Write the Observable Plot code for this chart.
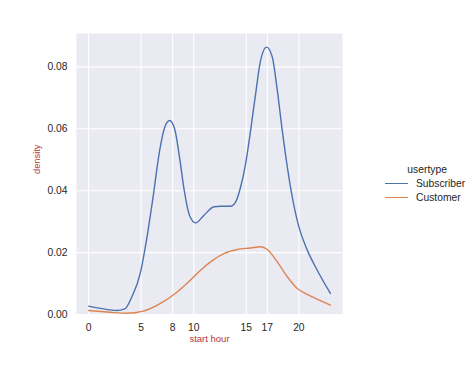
<!DOCTYPE html>
<html>
<head>
<meta charset="utf-8">
<script src="https://cdn.jsdelivr.net/npm/d3@7"></script>
<script src="https://cdn.jsdelivr.net/npm/@observablehq/plot@0.6"></script>
<style>
  body { margin: 0; background: #fff; }
  #wrap { position: relative; width: 474px; height: 379px; font-family: "Liberation Sans", Arial, sans-serif; }
  #legend { position: absolute; left: 385px; top: 164px; font-size: 10.3px; color: #262626; }
  #legend .title { text-align: center; margin-left: 4px; margin-bottom: 2px; font-size: 10.3px; }
  #legend .row { display: flex; align-items: center; height: 13.5px; }
  #legend .sw { width: 23px; height: 0; border-top: 1.5px solid; margin-right: 8px; }
</style>
</head>
<body>
<div id="wrap"></div>
<script>
const subHours = [0,1.42,2.68,3.45,4.1,4.9,5.5,6.13,6.76,7.24,7.71,8.18,8.65,9.1,9.6,10.19,10.98,11.93,12.56,13.5,13.99,14.46,14.94,15.41,15.89,16.36,16.93,17.47,17.95,18.42,18.9,19.37,20,20.8,21.75,23];
const subDensity = [0.0027,0.0018,0.0013,0.0018,0.0056,0.0131,0.0239,0.0379,0.053,0.0605,0.0627,0.060,0.0508,0.040,0.032,0.0296,0.0321,0.0348,0.035,0.035,0.0364,0.0412,0.0488,0.0595,0.0714,0.0821,0.0864,0.0832,0.0724,0.0595,0.0477,0.038,0.0283,0.0208,0.0143,0.0068];
const custHours = [0,2.05,3.6,5.2,6.8,8.4,9.6,10.65,11.6,12.87,14.14,15.4,16.36,17.0,17.95,18.9,19.85,20.8,22.0,23];
const custDensity = [0.0013,0.00075,0.0004,0.0011,0.0035,0.0072,0.0108,0.0143,0.017,0.0197,0.021,0.0215,0.0219,0.021,0.017,0.0122,0.0084,0.0065,0.0046,0.003];
const xTicks = [0,5,8,10,15,17,20];
const yTicks = [0,0.02,0.04,0.06,0.08];
const seriesNames = ["Subscriber","Customer"];
const seriesColors = ["#4c72b0","#dd8452"];

const rows = [
  ...subHours.map((h,i) => ({usertype: seriesNames[0], hour: h, density: subDensity[i]})),
  ...custHours.map((h,i) => ({usertype: seriesNames[1], hour: h, density: custDensity[i]}))
];

const labelColor = "#b5363b";
const chart = Plot.plot({
  width: 474,
  height: 379,
  marginLeft: 76,
  marginRight: 132,
  marginTop: 33,
  marginBottom: 65,
  style: {fontFamily: "'Liberation Sans', Arial, sans-serif", fontSize: "10.3px", color: "#262626", background: "#fff"},
  x: {domain: [-1.15, 24.15], ticks: xTicks},
  y: {domain: [0, 0.0908], ticks: yTicks},
  color: {domain: seriesNames, range: seriesColors},
  marks: [
    Plot.frame({fill: "#eaeaf2", stroke: null}),
    Plot.gridX(xTicks, {stroke: "#fff", strokeOpacity: 1, strokeWidth: 1.1}),
    Plot.gridY(yTicks, {stroke: "#fff", strokeOpacity: 1, strokeWidth: 1.1}),
    Plot.axisX(xTicks, {tickSize: 0, tickPadding: 9, label: null, fill: "#262626"}),
    Plot.axisY(yTicks, {tickSize: 0, tickPadding: 9, label: null, tickFormat: ".2f", fill: "#262626"}),
    Plot.line(rows, {x: "hour", y: "density", stroke: "usertype", z: "usertype", curve: "monotone-x", strokeWidth: 1.4}),
    Plot.text(["density"], {frameAnchor: "left", rotate: -90, dx: -39, fill: labelColor, fontSize: 9.3}),
    Plot.text(["start hour"], {frameAnchor: "bottom", dy: 27, fill: labelColor, fontSize: 9.5})
  ]
});
const wrap = document.getElementById("wrap");
wrap.appendChild(chart);

const legend = document.createElement("div");
legend.id = "legend";
legend.innerHTML = `<div class="title">usertype</div>` +
  seriesNames.map((n,i) => `<div class="row"><span class="sw" style="border-color:${seriesColors[i]}"></span><span>${n}</span></div>`).join("");
wrap.appendChild(legend);
</script>
</body>
</html>
